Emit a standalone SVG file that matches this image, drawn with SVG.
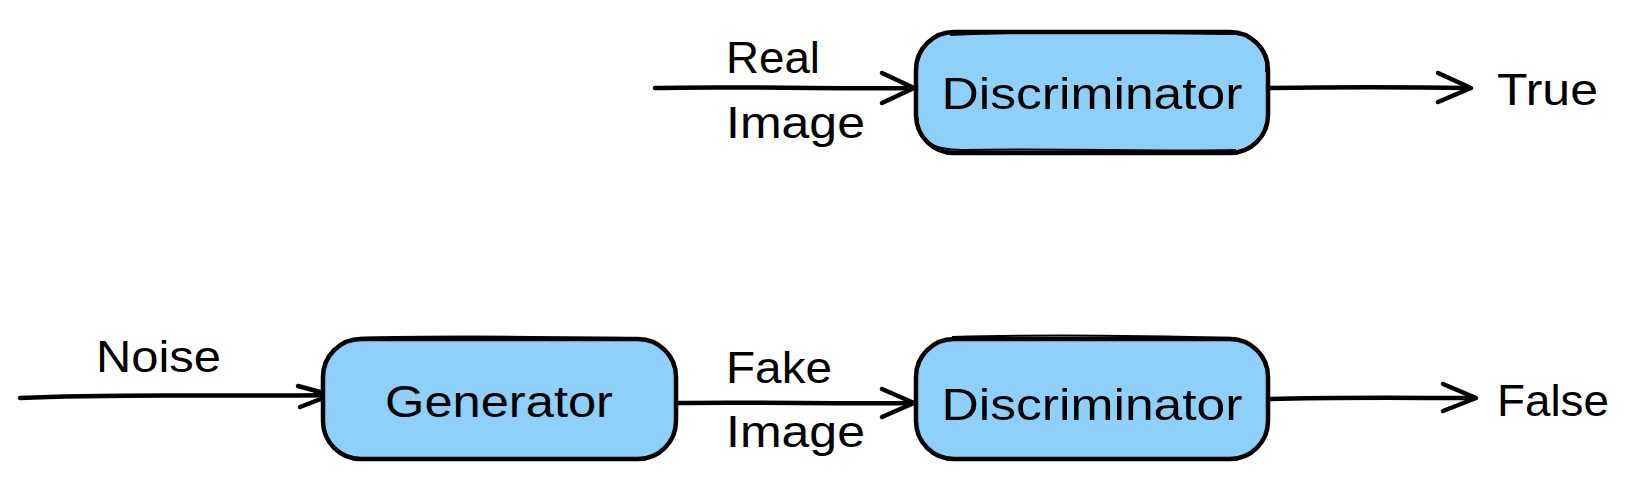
<svg xmlns="http://www.w3.org/2000/svg" width="1630" height="482" viewBox="0 0 1630 482">
<style>
.box{fill:#8fd0fa;stroke:#000;stroke-width:4.5}
.sk{fill:none;stroke:#000;stroke-width:2}
.ln{fill:none;stroke:#000;stroke-width:4.5;stroke-linecap:round;stroke-linejoin:round}
.t{font-family:"Comic Sans MS","Liberation Sans","DejaVu Sans",sans-serif;font-size:45px;fill:#000}
</style>
<rect width="1630" height="482" fill="#fff"/>
<g id="connectors">
<path class="ln" d="M655,88 C720,86 820,89 913,88"/>
<path class="ln" d="M882,73 L914,88 L882,103"/>
<path class="ln" d="M1270,88 C1340,87 1400,87 1470,88"/>
<path class="ln" d="M1438,73 L1471,88 L1438,102"/>
<path class="ln" d="M20,398 C120,393 220,397 330,395"/>
<path class="ln" d="M298,386 L331,395 L300,407"/>
<path class="ln" d="M677,403 C760,402 840,404 913,403"/>
<path class="ln" d="M882,389 L914,403 L882,417"/>
<path class="ln" d="M1270,399 C1340,397 1410,398 1475,398"/>
<path class="ln" d="M1443,384 L1476,398 L1443,411"/>
</g>
<g id="label-real-image">
<text class="t" x="726" y="73" textLength="94" lengthAdjust="spacingAndGlyphs">Real</text>
<text class="t" x="726" y="138" textLength="139" lengthAdjust="spacingAndGlyphs">Image</text>
</g>
<g id="label-fake-image">
<text class="t" x="726" y="383" textLength="106" lengthAdjust="spacingAndGlyphs">Fake</text>
<text class="t" x="726" y="447" textLength="139" lengthAdjust="spacingAndGlyphs">Image</text>
</g>
<g id="label-noise"><text class="t" x="96" y="372" textLength="125" lengthAdjust="spacingAndGlyphs">Noise</text></g>
<g id="label-true"><text class="t" x="1497" y="105" textLength="101" lengthAdjust="spacingAndGlyphs">True</text></g>
<g id="label-false"><text class="t" x="1497" y="416" textLength="112" lengthAdjust="spacingAndGlyphs">False</text></g>
<g id="disc-top">
<rect class="box" x="916" y="32" width="352" height="121" rx="38"/>
<path class="sk" d="M950,35 C1050,30 1160,33 1236,34 C1260,36 1268,52 1266,72 M918,118 C916,140 932,150 962,150 C1060,148 1160,152 1236,150"/>
<text class="t" x="1092" y="109" text-anchor="middle" textLength="301" lengthAdjust="spacingAndGlyphs">Discriminator</text>
</g>
<g id="generator">
<rect class="box" x="323" y="339" width="353" height="120" rx="38"/>
<path class="sk" d="M358,338 C450,335 560,337 640,338"/>
<text class="t" x="499" y="417" text-anchor="middle" textLength="228" lengthAdjust="spacingAndGlyphs">Generator</text>
</g>
<g id="disc-bottom">
<rect class="box" x="916" y="339" width="352" height="120" rx="38"/>
<path class="sk" d="M952,337 C1050,334 1160,336 1236,338"/>
<text class="t" x="1092" y="420" text-anchor="middle" textLength="301" lengthAdjust="spacingAndGlyphs">Discriminator</text>
</g>
</svg>
